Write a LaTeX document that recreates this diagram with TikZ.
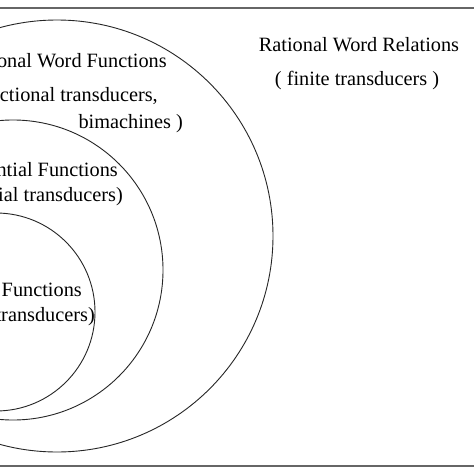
\documentclass[tikz,border=0pt]{standalone}
\usepackage{fontspec}
\setmainfont{Liberation Serif}
\begin{document}
\begin{tikzpicture}[x=1pt,y=-1pt,
  ring/.style={draw=black!85,line width=0.9pt,circle,inner sep=0pt},
  lbl/.style={inner sep=0pt,font=\fontsize{20.3pt}{24pt}\selectfont,text=black},
  rule/.style={draw=black!60,line width=1.6pt}]
\useasboundingbox (0,0) rectangle (474,474);
\clip (0,0) rectangle (474,474);
\fill[white] (0,0) rectangle (474,474);
% frame lines
\coordinate (tl) at (-5,8);
\coordinate (tr) at (480,8);
\coordinate (bl) at (-5,466);
\coordinate (br) at (480,466);
\draw[rule] (tl) -- (tr);
\draw[rule] (bl) -- (br);
% nested sets
\node[ring,minimum size=432pt] (outer) at (57,236) {};
\node[ring,minimum size=300pt] (middle) at (13,270) {};
\node[ring,minimum size=198pt] (inner) at (-4,312) {};
% labels
\node[lbl,anchor=base] (rwr) at (359,51.7) {Rational Word Relations};
\node[lbl,anchor=base] (ft) at (357,85) {( finite transducers )};
\node[lbl,anchor=base east] (rwf) at (167,67.3) {onal Word Functions};
\node[lbl,anchor=base east] (fut) at (158,101.7) {ctional transducers,};
\node[lbl,anchor=base east] (bim) at (183,128.3) {bimachines )};
\node[lbl,anchor=base east] (sf) at (118,176.7) {ntial Functions};
\node[lbl,anchor=base east] (st) at (123,201.7) {ial transducers)};
\node[lbl,anchor=base east] (inf) at (82,296.7) {Functions};
\node[lbl,anchor=base east] (intr) at (95,321.7) {transducers)};
\end{tikzpicture}
\end{document}
